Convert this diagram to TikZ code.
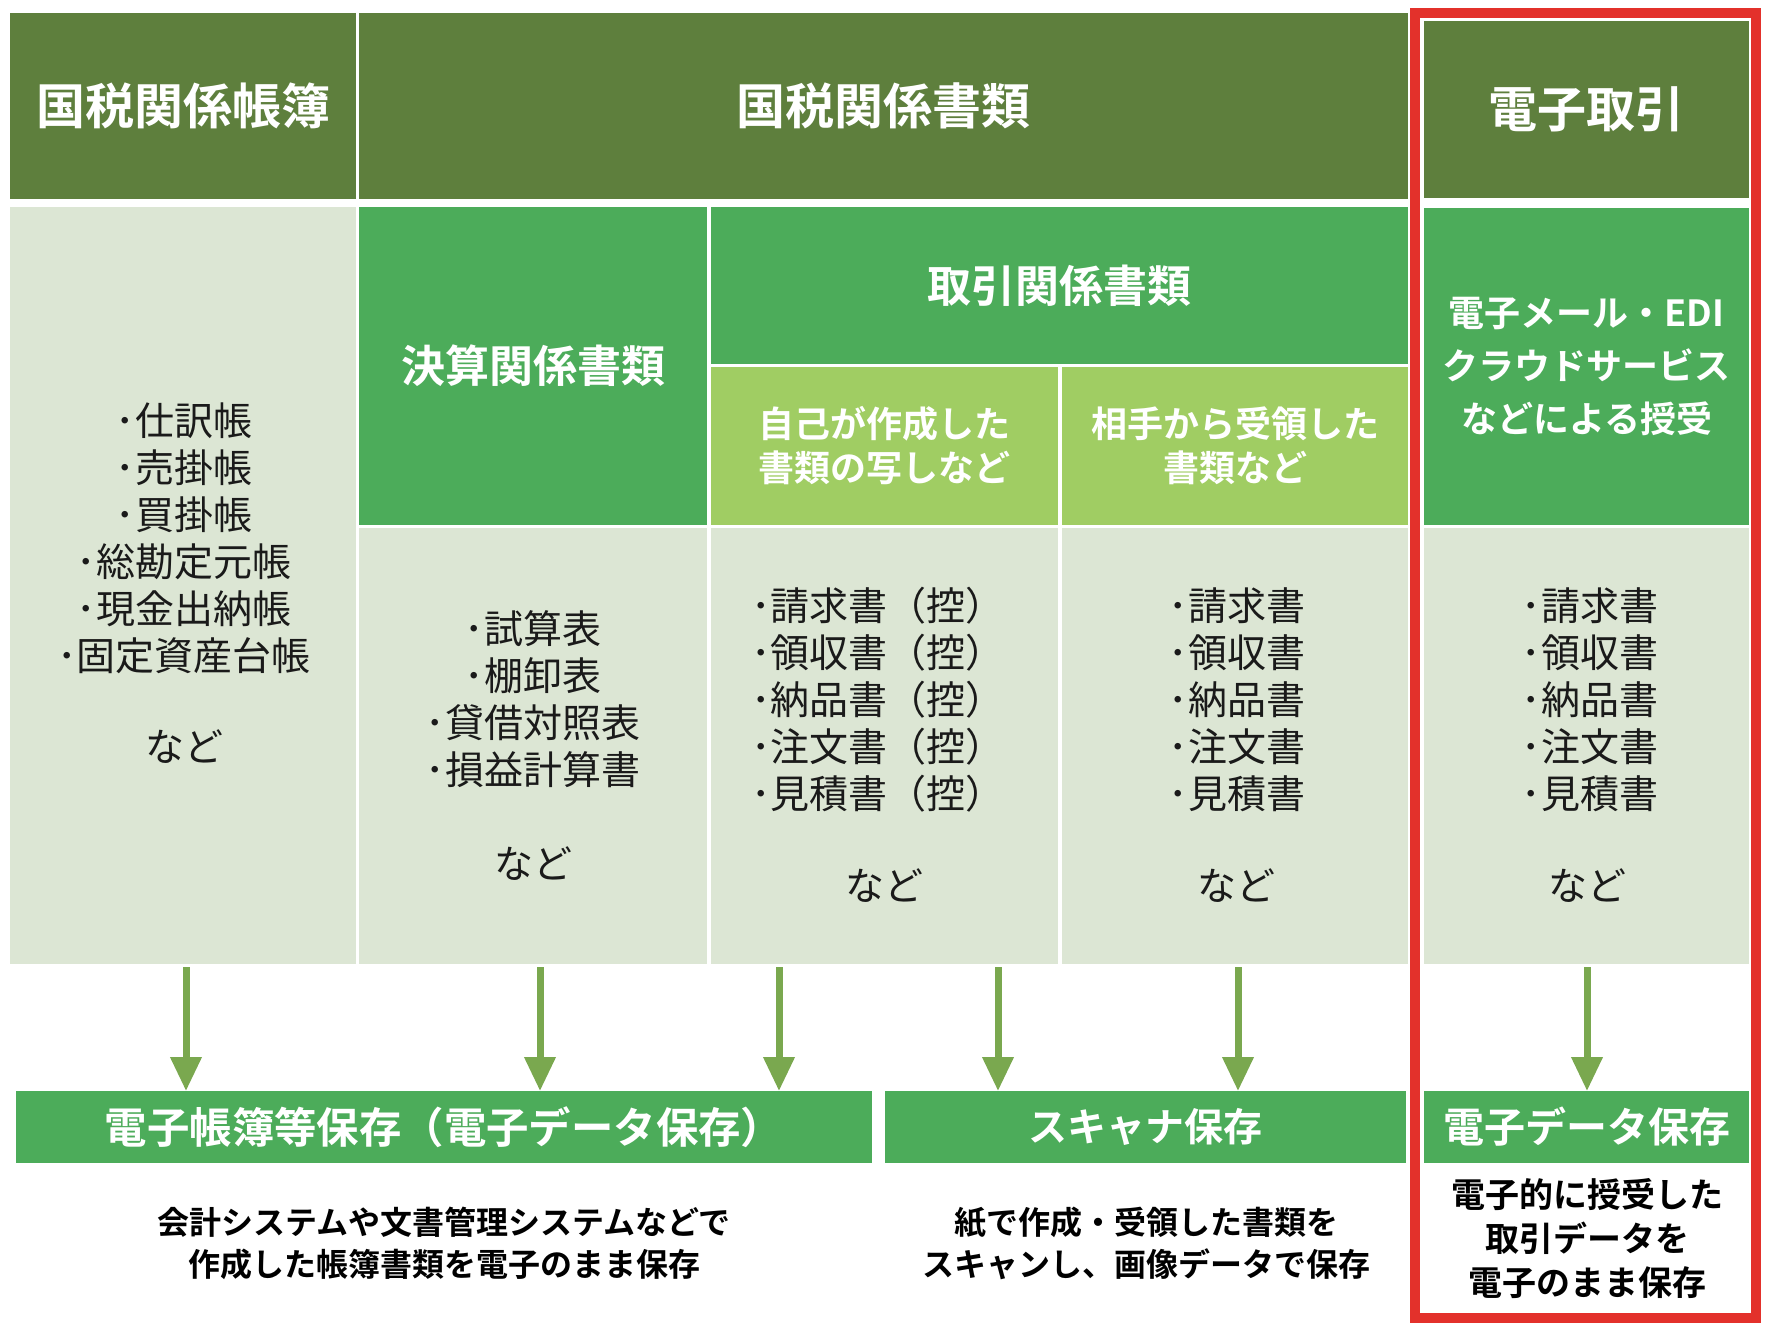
\documentclass[tikz,border=0pt]{standalone}
\usepackage{fontspec}
\setmainfont{Noto Sans CJK JP}[BoldFont={Noto Sans CJK JP Bold}]
\usetikzlibrary{arrows.meta}
\definecolor{hdr}{HTML}{5E7F3D}
\definecolor{midg}{HTML}{4CAC5A}
\definecolor{lightg}{HTML}{A0CD63}
\definecolor{paleg}{HTML}{DCE6D4}
\definecolor{arrc}{HTML}{7AA84F}
\definecolor{redb}{HTML}{E3312B}
\definecolor{ink}{HTML}{1A1A1A}
\newcommand\cellnode[7]{%
  \node[#6, minimum width={(#4-#2)*0.5pt}, minimum height={(#5-#3)*0.5pt}] (#1)
    at ({(#2+#4)/2},{(#3+#5)/2}) {#7};}
\begin{document}
\begin{tikzpicture}[x=0.5pt,y=-0.5pt,
  box/.style={inner sep=0pt, outer sep=0pt, align=center, text=white},
  hdrbox/.style={box, fill=hdr, font=\bfseries\fontsize{24.5}{28}\selectfont},
  midbox/.style={box, fill=midg, font=\bfseries\fontsize{22}{26}\selectfont},
  subbox/.style={box, fill=lightg, font=\bfseries\fontsize{18}{22}\selectfont},
  palebox/.style={box, fill=paleg},
  barbox/.style={box, fill=midg, font=\bfseries\fontsize{20.5}{24}\selectfont},
  listtxt/.style={inner sep=0pt, align=center, text=ink, font=\fontsize{19.5}{23.5}\selectfont},
  desc/.style={inner sep=0pt, align=center, text=black, font=\bfseries\fontsize{16}{21}\selectfont},
  arr/.style={draw=arrc, line width=3.5pt, -{Triangle[width=15pt,length=17pt]}}
]
\useasboundingbox (0,0) rectangle (1770,1338);
\fill[white] (0,0) rectangle (1770,1338);
% header row
\cellnode{H1}{10}{13}{356}{199}{hdrbox}{国税関係帳簿}
\cellnode{H2}{359}{13}{1408}{199}{hdrbox}{国税関係書類}
\cellnode{H3}{1424}{21}{1749}{198}{hdrbox}{電子取引}
% second row
\cellnode{L1}{10}{207}{356}{964}{palebox}{}
\cellnode{K1}{359}{207}{707}{525}{midbox}{決算関係書類}
\cellnode{T1}{711}{207}{1408}{364}{midbox}{取引関係書類}
\cellnode{J1}{711}{367}{1058}{525}{subbox}{自己が作成した\\書類の写しなど}
\cellnode{A1}{1062}{367}{1408}{525}{subbox}{相手から受領した\\書類など}
\cellnode{E1}{1424}{208}{1749}{525}{midbox, font=\bfseries\fontsize{18}{26.5}\selectfont}{電子メール・EDI\\クラウドサービス\\などによる授受}
\cellnode{C2}{359}{528}{707}{964}{palebox}{}
\cellnode{C3}{711}{528}{1058}{964}{palebox}{}
\cellnode{C4}{1062}{528}{1408}{964}{palebox}{}
\cellnode{C5}{1424}{528}{1749}{964}{palebox}{}
% lists
\node[listtxt] (l1) at (184,538) {･仕訳帳\\･売掛帳\\･買掛帳\\･総勘定元帳\\･現金出納帳\\･固定資産台帳};
\node[listtxt] (l1n) at (184,747) {など};
\node[listtxt] (l2) at (533,699) {･試算表\\･棚卸表\\･貸借対照表\\･損益計算書};
\node[listtxt] (l2n) at (533,864) {など};
\node[listtxt] (l3) at (878,700) {･請求書（控）\\･領収書（控）\\･納品書（控）\\･注文書（控）\\･見積書（控）};
\node[listtxt] (l3n) at (884,886) {など};
\node[listtxt] (l4) at (1237,700) {･請求書\\･領収書\\･納品書\\･注文書\\･見積書};
\node[listtxt] (l4n) at (1236,886) {など};
\node[listtxt] (l5) at (1590,700) {･請求書\\･領収書\\･納品書\\･注文書\\･見積書};
\node[listtxt] (l5n) at (1587,886) {など};
% bottom bars
\cellnode{B1}{16}{1091}{872}{1163}{barbox, font=\bfseries\fontsize{21.2}{24}\selectfont}{電子帳簿等保存（電子データ保存）}
\cellnode{B2}{885}{1091}{1406}{1163}{barbox, font=\bfseries\fontsize{19.5}{24}\selectfont}{スキャナ保存}
\cellnode{B3}{1424}{1091}{1749}{1163}{barbox}{電子データ保存}
% descriptions
\node[desc] (d1) at (444,1243) {会計システムや文書管理システムなどで\\作成した帳簿書類を電子のまま保存};
\node[desc] (d2) at (1146,1243) {紙で作成・受領した書類を\\スキャンし、画像データで保存};
\node[desc, font=\bfseries\fontsize{17}{22}\selectfont] (d3) at (1587,1239) {電子的に授受した\\取引データを\\電子のまま保存};
% arrows
\coordinate (a1) at (186,967);
\coordinate (a2) at (540,967);
\coordinate (a3) at (779,967);
\coordinate (a4) at (998,967);
\coordinate (a5) at (1238,967);
\coordinate (a6) at (1587,967);
\draw[arr] (a1) -- (a1 |- B1.north);
\draw[arr] (a2) -- (a2 |- B1.north);
\draw[arr] (a3) -- (a3 |- B1.north);
\draw[arr] (a4) -- (a4 |- B2.north);
\draw[arr] (a5) -- (a5 |- B2.north);
\draw[arr] (a6) -- (a6 |- B3.north);
% red frame
\draw[redb, line width=5pt] (1415,13) rectangle (1756,1318);
\end{tikzpicture}
\end{document}
